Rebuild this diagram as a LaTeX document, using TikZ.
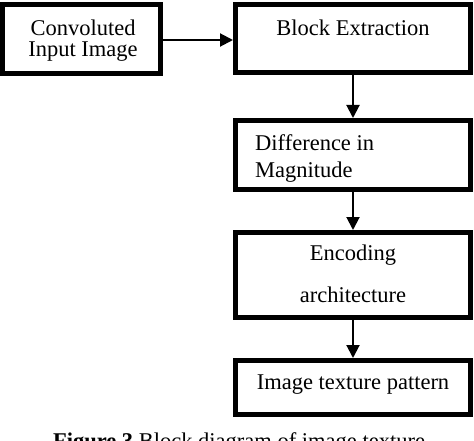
\documentclass[tikz,border=0pt]{standalone}
\usepackage{fontspec}
\setmainfont{Liberation Serif}
\usetikzlibrary{arrows.meta}
\begin{document}
\begin{tikzpicture}[x=1pt,y=-1pt,
  box/.style={draw=black,line width=5pt,minimum width=#1,inner sep=0pt},
  lbl/.style={inner sep=0pt,font=\fontsize{22.5}{27}\selectfont},
  arr/.style={line width=2pt,-{Triangle[length=13pt,width=13pt]}}]
\useasboundingbox (0,0) rectangle (474,441);
\node[box=158pt,minimum height=69pt] (b1) at (81.5,39) {};
\node[box=235pt,minimum height=68.5pt] (b2) at (353,38.75) {};
\node[box=235pt,minimum height=69pt] (b3) at (353,155) {};
\node[box=235pt,minimum height=85pt] (b4) at (353,275) {};
\node[box=235pt,minimum height=54pt] (b5) at (353,387.5) {};
\node[lbl] (t1a) at (83,28) {Convoluted};
\node[lbl] (t1b) at (83,52) {Input Image};
\node[lbl] (t2) at (353,28) {Block Extraction};
\node[lbl,anchor=base west] (t3a) at (255,151) {Difference in};
\node[lbl,anchor=base west] (t3b) at (255,178) {Magnitude};
\node[lbl] (t4a) at (353,255) {Encoding};
\node[lbl] (t4b) at (353,295) {architecture};
\node[lbl] (t5) at (353,385) {Image texture pattern};
\node[lbl,anchor=base] (cap) at (239,448) {\textbf{Figure 3} Block diagram of image texture};
\draw[arr] (b1.east |- 0,40) -- (b2.west |- 0,40);
\draw[arr] (b2) -- (b3);
\draw[arr] (b3) -- (b4);
\draw[arr] (b4) -- (b5);
\end{tikzpicture}
\end{document}
